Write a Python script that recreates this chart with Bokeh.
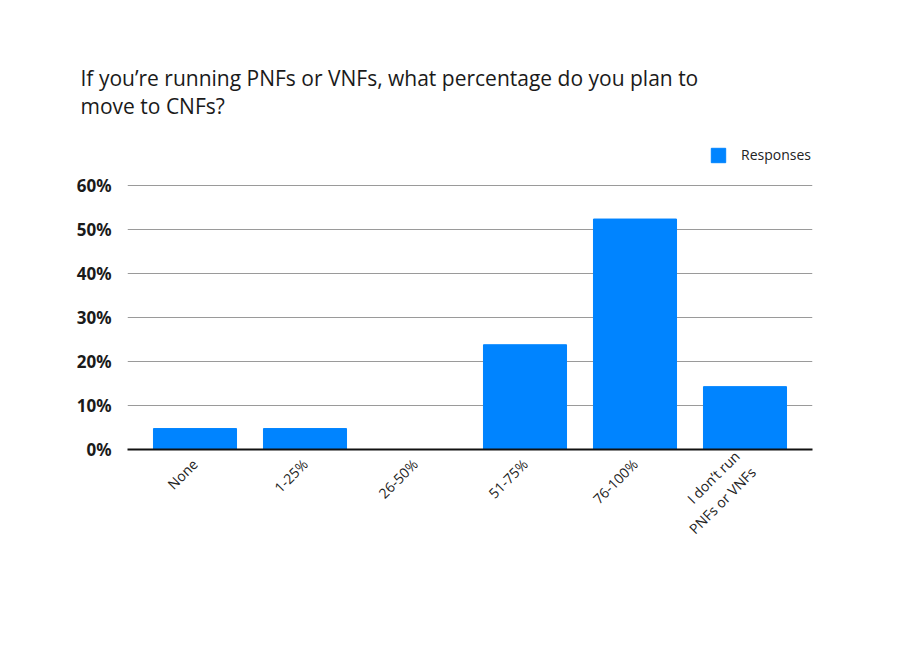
from bokeh.plotting import figure
from bokeh.models import ColumnDataSource, FactorRange, FixedTicker, PrintfTickFormatter, Range1d
from bokeh.embed import file_html
from bokeh.resources import INLINE

categories = ["None", "1-25%", "26-50%", "51-75%", "76-100%", "I don\u2019t run\nPNFs or VNFs"]
responses = [4.76, 4.76, 0.0, 23.81, 52.38, 14.29]
y_ticks = [0, 10, 20, 30, 40, 50, 60]
title_text = "If you\u2019re running PNFs or VNFs, what percentage do you plan to\nmove to CNFs?"
series_name = "Responses"

FONT = "Open Sans"
BAR = "#0084ff"

src = ColumnDataSource(dict(cat=categories, val=responses))

# frame: left 127, right 812, top 125, bottom 449 ; 10% = 44 px
p = figure(x_range=FactorRange(factors=categories, range_padding=0.0379),
           y_range=Range1d(0, 73.64),
           width=884, height=637, output_backend="svg", toolbar_location=None,
           min_border_left=127, min_border_right=72, min_border_top=125, min_border_bottom=188)
p.outline_line_color = None
p.background_fill_color = "white"
p.border_fill_color = "white"

p.vbar(x="cat", top="val", width=0.755, source=src, color=BAR, legend_label=series_name)

p.xgrid.grid_line_color = None
p.ygrid.grid_line_color = "#9a9a9a"
p.ygrid.grid_line_width = 1
p.ygrid.ticker = FixedTicker(ticks=y_ticks)

p.yaxis.ticker = FixedTicker(ticks=y_ticks)
p.yaxis.formatter = PrintfTickFormatter(format="%d%%")
p.yaxis.axis_line_color = None
p.yaxis.major_tick_line_color = None
p.yaxis.minor_tick_line_color = None
p.yaxis.major_label_text_font = "Noto Sans"
p.yaxis.major_label_text_font_style = "bold"
p.yaxis.major_label_text_font_size = "17px"
p.yaxis.major_label_text_color = "#1a1a1a"
p.yaxis.major_label_standoff = 10

p.xaxis.axis_line_color = "#111111"
p.xaxis.axis_line_width = 2
p.xaxis.major_tick_line_color = None
p.xaxis.minor_tick_line_color = None
p.xaxis.major_label_orientation = 0.785398
p.xaxis.major_label_text_font = FONT
p.xaxis.major_label_text_font_size = "14px"
p.xaxis.major_label_text_color = "#222222"
p.xaxis.major_label_standoff = 6

lg = p.legend[0]
lg.location = (582, 285)
lg.border_line_color = None
lg.background_fill_alpha = 0
lg.padding = 0
lg.margin = 0
lg.glyph_width = 18
lg.glyph_height = 18
lg.label_standoff = 14
lg.label_text_font = FONT
lg.label_text_font_size = "14px"
lg.label_text_color = "#222222"

p.title.text = title_text
p.title.align = "left"
p.title.offset = -47
p.title.standoff = 12
p.title.text_font = FONT
p.title.text_font_style = "normal"
p.title.text_font_size = "21px"
p.title.text_color = "#1a1a1a"
p.title.text_line_height = 1.0

open("out.html", "w").write(file_html(p, INLINE))
